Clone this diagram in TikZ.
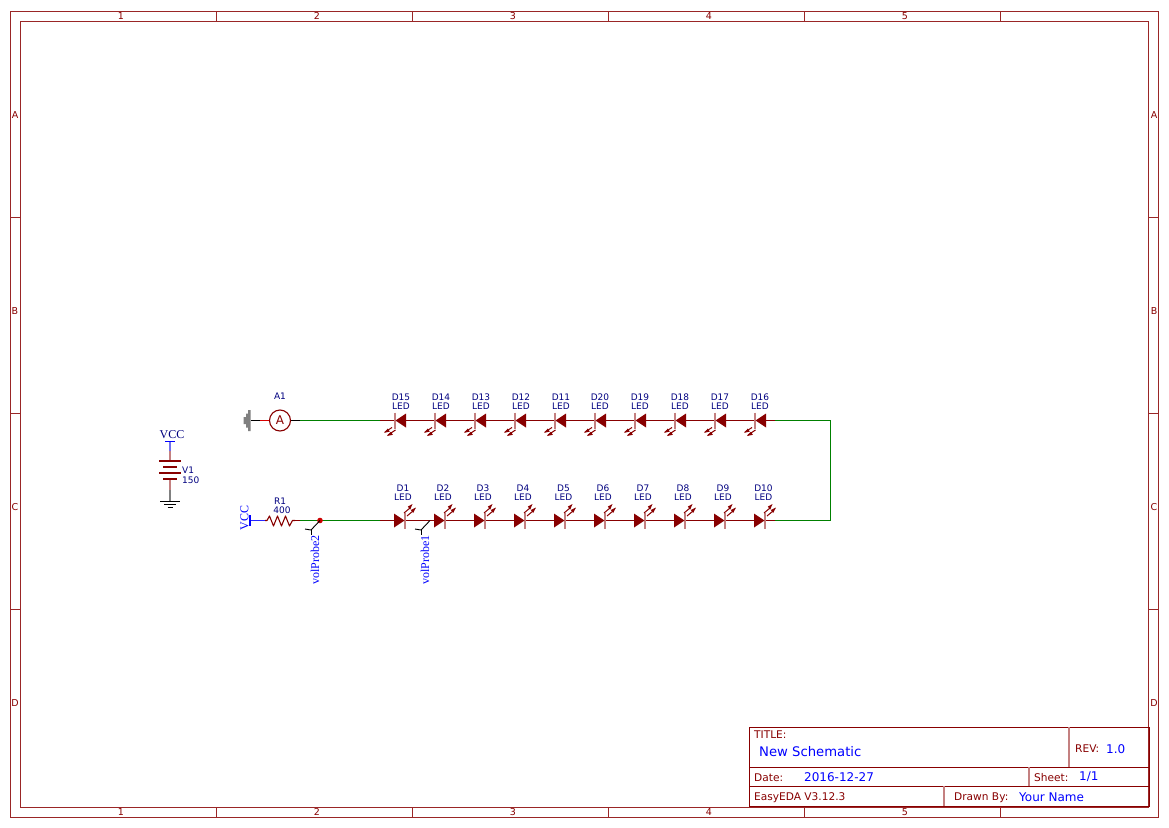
\documentclass[tikz,border=0pt]{standalone}
\usepackage{fontspec}
\setmainfont{DejaVu Sans}
\newfontfamily\timesf{Liberation Serif}
\definecolor{dred}{HTML}{880000}
\definecolor{fade}{HTML}{C48080}
\definecolor{lbl}{HTML}{000080}
\definecolor{wire}{HTML}{008000}
\definecolor{blu}{HTML}{0000FF}
\definecolor{pinblue}{HTML}{7070F0}
\definecolor{gnd}{HTML}{808080}
\tikzset{
  fr/.style={draw=dred!85,line width=0.95pt},
  tb/.style={draw=dred,line width=0.95pt},
  zone/.style={text=dred,font=\fontsize{9.5}{10}\selectfont,inner sep=0pt},
  tblab/.style={text=dred,font=\fontsize{10.6}{11}\selectfont,inner sep=0pt,anchor=west},
  tbval/.style={text=blu,font=\fontsize{12}{12}\selectfont,inner sep=0pt,anchor=west},
  lab/.style={text=lbl,font=\fontsize{9}{9}\selectfont,inner sep=0pt},
  ser/.style={text=blu,font=\timesf\fontsize{12}{12}\selectfont,inner sep=0pt},
  grn/.style={draw=wire,line width=1.1pt},
  red/.style={draw=dred,line width=1.1pt},
  pale/.style={draw=fade,line width=2pt},
  plate/.style={draw=dred,line width=1.6pt},
  tip/.style={fill=dred,draw=none},
  bl/.style={draw=black,line width=0.9pt},
  pt/.style={coordinate},
}
\begin{document}
\begin{tikzpicture}[x=1pt,y=-1pt]
\useasboundingbox (0,0) rectangle (1169,827);
\fill[white] (0,0) rectangle (1169,827);
% sheet frame
\node[pt] (o1) at (10,11) {}; \node[pt] (o2) at (1158.5,817) {};
\node[pt] (i1) at (20,21) {}; \node[pt] (i2) at (1148.5,807) {};
\draw[fr] (o1) rectangle (o2);
\draw[fr] (i1) rectangle (i2);
\foreach \x in {216,412,608,804,1000}{
  \draw[fr] (\x,11) -- (\x,21);
  \draw[fr] (\x,807) -- (\x,817);
}
\foreach \y in {217,413,609}{
  \draw[fr] (10,\y) -- (20,\y);
  \draw[fr] (1148.5,\y) -- (1158.5,\y);
}
\foreach \n/\x in {1/121,2/317,3/513,4/709,5/905}{
  \node[zone] (zt\n) at (\x,16) {\n};
  \node[zone] (zb\n) at (\x,812) {\n};
}
\foreach \n/\y in {A/115.5,B/311.5,C/507.5,D/703.5}{
  \node[zone] (zl\n) at (15,\y) {\n};
  \node[zone] (zr\n) at (1154,\y) {\n};
}
% title block
\draw[tb] (749,727) rectangle (1149,806);
\draw[tb] (749,767) -- (1149,767);
\draw[tb] (749,786) -- (1149,786);
\draw[pale,line width=1.7pt] (1069,727) -- (1069,767);
\draw[pale,line width=1.7pt] (1029,767) -- (1029,786);
\draw[pale,line width=1.7pt] (944,786) -- (944,806);
\node[tblab] (t1) at (754,734.5) {TITLE:};
\node[tbval,font=\fontsize{13.2}{14}\selectfont] (t2) at (759,752) {New Schematic};
\node[tblab] (t3) at (1075,748.5) {REV:};
\node[tbval] (t4) at (1106,749) {1.0};
\node[tblab] (t5) at (754,777.5) {Date:};
\node[tbval] (t6) at (804,777) {2016-12-27};
\node[tblab] (t7) at (1034,777.5) {Sheet:};
\node[tbval] (t8) at (1079,777) {1/1};
\node[tblab] (t9) at (754,797.5) {EasyEDA V3.12.3};
\node[tblab] (t10) at (954,797.5) {Drawn By:};
\node[tbval] (t11) at (1019,797) {Your Name};
% key points
\node[pt] (gp) at (251,420.5) {};
\node[pt] (ga) at (260,420.5) {};
\node[pt] (al) at (269.5,420.5) {};
\node[pt] (ar) at (290.5,420.5) {};
\node[pt] (aw) at (300,420.5) {};
\node[pt] (tl) at (380,420.5) {};
\node[pt] (tr) at (775,420.5) {};
\node[pt] (ne) at (830.5,420.5) {};
\node[pt] (se) at (830.5,520.5) {};
\node[pt] (br) at (775,520.5) {};
\node[pt] (bl) at (380,520.5) {};
\node[pt] (rw) at (300,520.5) {};
\node[pt] (rr) at (295,520.5) {};
\node[pt] (rl) at (265,520.5) {};
\node[pt] (vp) at (250,520.5) {};
\node[pt] (j2) at (320,520.5) {};
\node[pt] (y2) at (311,530) {};
\node[pt] (j1) at (430,520.5) {};
\node[pt] (y1) at (421,530) {};
% wires
\draw[grn] (aw) -- (tl);
\draw[red] (tl) -- (tr);
\draw[grn] (tr) -- (ne) -- (se) -- (br);
\draw[red] (br) -- (bl);
\draw[grn] (bl) -- (rw);
\draw[red] (rw) -- (rr);
\draw[draw=blu!85!white,line width=1.1pt] (vp) -- (rl);
% ground at left of ammeter
\draw[draw=black,line width=1pt] (gp) -- (ga);
\draw[draw=red!85!black,line width=1pt] (ga) -- (al);
\draw[draw=black,line width=1pt] (ar) -- (aw);
\fill[gnd] (250.5,410) -- (250.5,431) -- (248,431) -- (248,427.5) -- (246,427.5) -- (246,424) -- (243.5,424) -- (243.5,417) -- (246,417) -- (246,413.5) -- (248,413.5) -- (248,410) -- cycle;
% ammeter
\node[circle,draw=dred,line width=1.1pt,fill=white,minimum size=21pt,inner sep=0pt,text=dred,font=\fontsize{12}{12}\selectfont] (A1) at (280,420.5) {A};
\node[lab] (A1l) at (280,396) {A1};
% top LEDs
\foreach \n/\x/\lx in {15/395/401,14/435/441,13/475/481,12/515/521,11/555/561,20/595/600,19/635/640,18/675/680,17/715/720,16/755/760}{
  \draw[pale] (\x,412.5) -- (\x,428.5);
  \fill[tip] (\x+0.5,420.5) -- (\x+11,413.5) -- (\x+11,427.5) -- cycle;
  \node[lab] (td\n) at (\lx,397) {D\n};
  \node[lab] (tv\n) at (\lx,406.5) {LED};
  \draw[dred,line width=1pt] (\x-3,427.5) -- (\x-10,432);
  \fill[dred] (\x-11,432.8) -- (\x-7.2,428.6) -- (\x-5.2,431.6) -- cycle;
  \draw[dred,line width=1pt] (\x+0.5,430) -- (\x-7,435);
  \fill[dred] (\x-8,436) -- (\x-4.2,431.8) -- (\x-2.2,434.8) -- cycle;
}
% bottom LEDs
\foreach \n/\x/\lx in {1/405/403,2/445/443,3/485/483,4/525/523,5/565/563.5,6/605/603,7/645/643,8/685/683,9/725/723,10/765/763.5}{
  \draw[pale] (\x,512.5) -- (\x,528.5);
  \fill[tip] (\x-0.5,520.5) -- (\x-11,513.5) -- (\x-11,527.5) -- cycle;
  \node[lab] (bd\n) at (\lx,488) {D\n};
  \node[lab] (bv\n) at (\lx,497.5) {LED};
  \draw[dred,line width=1pt] (\x-1,513) -- (\x+5,508);
  \fill[dred] (\x+7.5,504) -- (\x+2.8,506.6) -- (\x+5.2,509.6) -- cycle;
  \draw[dred,line width=1pt] (\x+2,516) -- (\x+8,511);
  \fill[dred] (\x+11,507.5) -- (\x+5.8,510) -- (\x+8.2,513) -- cycle;
}
% resistor
\draw[draw=dred,line width=1.1pt,line join=round] (rl) -- (267,520.5) -- (269.5,516) -- (273.5,526) -- (277.5,516) -- (281.5,526) -- (285.5,516) -- (289.5,526) -- (292.5,520.5) -- (rr);
\node[lab] (R1) at (280,501) {R1};
\node[lab] (R1v) at (282,510) {400};
% VCC on R1
\draw[draw=blu,line width=1.1pt] (250,515) -- (250,526);
\node[ser,rotate=90] (vcc2) at (244.5,518) {VCC};
% probes
\fill[red!80!black] (j2) circle (2.8pt);
\draw[bl] (j2) -- (y2);
\draw[bl] (y2) -- (305,529);
\draw[bl] (y2) -- (311,535);
\node[ser,rotate=90,anchor=west] (p2) at (315,585) {volProbe2};
\draw[bl] (j1) -- (y1);
\draw[bl] (y1) -- (415,529);
\draw[bl] (y1) -- (421,535);
\node[ser,rotate=90,anchor=west] (p1) at (425,585) {volProbe1};
% battery
\node[pt] (b1) at (170,441) {};
\node[pt] (b2) at (170,451) {};
\node[pt] (b3) at (170,461) {};
\node[pt] (b4) at (170,479) {};
\node[pt] (b5) at (170,490) {};
\node[pt] (b6) at (170,500.5) {};
\draw[draw=pinblue,line width=1.6pt] (b1) -- (b2);
\draw[pale] (b2) -- (b3);
\draw[pale] (b4) -- (b5);
\draw[draw=gnd,line width=1.6pt] (b5) -- (b6);
\draw[draw=blu,line width=0.9pt] (165,441) -- (175,441);
\draw[plate] (159,461) -- (181,461);
\draw[plate] (163,467) -- (177,467);
\draw[plate] (159,473) -- (181,473);
\draw[plate] (163,479) -- (177,479);
\draw[draw=black,line width=0.8pt] (160,501) -- (180,501);
\draw[draw=black,line width=0.8pt] (164,504) -- (176,504);
\draw[draw=black,line width=0.8pt] (167.5,507) -- (172.5,507);
\node[ser,text=lbl] (vcc1) at (172,435) {VCC};
\node[lab,anchor=west] (V1) at (182,470) {V1};
\node[lab,anchor=west] (V1v) at (182,480) {150};
\end{tikzpicture}
\end{document}
